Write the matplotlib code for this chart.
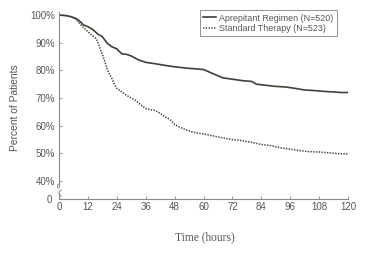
import numpy as np
import matplotlib.pyplot as plt

# Kaplan-Meier style curves (hours, percent)
aprep_t = [0, 3, 5, 7, 9, 10, 12, 14, 16, 18, 20, 22, 24, 26, 28, 30, 33, 36,
           40, 44, 48, 52, 56, 60, 64, 68, 72, 76, 80, 82, 86, 90, 94, 98,
           102, 106, 110, 114, 117, 120]
aprep_y = [100, 99.8, 99.4, 98.8, 97.5, 96.5, 95.8, 94.8, 93.2, 92.2, 89.8,
           88.5, 87.8, 86.0, 85.8, 85.2, 83.8, 82.9, 82.4, 81.8, 81.3, 80.9,
           80.6, 80.3, 78.8, 77.3, 76.8, 76.3, 76.0, 75.0, 74.6, 74.2, 74.0,
           73.5, 72.9, 72.7, 72.4, 72.2, 72.0, 72.0]

std_t = [0, 3, 5, 7, 9, 11, 13, 15, 16, 17, 18, 19, 20, 21, 22, 23, 24, 26,
         28, 30, 32, 34, 36, 38, 40, 42, 44, 46, 48, 50, 53, 56, 60, 64, 68,
         72, 76, 80, 84, 88, 92, 96, 100, 104, 108, 112, 116, 120]
std_y = [100, 99.8, 99.4, 98.5, 96.5, 94.8, 93.2, 91.8, 90.5, 88.0, 85.8,
         83.2, 80.5, 78.6, 77.0, 75.0, 73.5, 72.2, 71.0, 70.0, 69.0, 67.5,
         66.2, 65.8, 65.5, 64.5, 63.2, 62.3, 60.5, 59.5, 58.4, 57.6, 57.0,
         56.3, 55.6, 55.0, 54.6, 54.0, 53.2, 52.8, 52.0, 51.5, 51.0, 50.6,
         50.5, 50.2, 49.9, 49.8]

labels = ["Aprepitant Regimen (N=520)", "Standard Therapy (N=523)"]
x_ticks = np.arange(0, 121, 12)
y_ticks = np.arange(40, 101, 10)

W, H = 383, 256
line_col = "#404036"
text_col = "#555555"
spine_col = "#8a8a80"

fig = plt.figure(figsize=(W / 100, H / 100), dpi=100)
x0, x1 = 59 / W, 348 / W

# upper part: 40%..100%
ax = fig.add_axes([x0, 1 - 186 / H, x1 - x0, (186 - 12) / H])
# lower part: the 0 row and the time axis
axb = fig.add_axes([x0, 1 - 199 / H, x1 - x0, 6 / H])

ax.plot(aprep_t, aprep_y, color=line_col, lw=1.2, ls="-", label=labels[0])
ax.plot(std_t, std_y, color=line_col, lw=1.1, ls=(0, (0.9, 0.9)), label=labels[1])

ax.set_xlim(0, 120)
ax.set_ylim(38.2, 101.1)
ax.set_yticks(y_ticks)
ax.set_yticklabels([f"{v}%" for v in y_ticks])
ax.set_xticks([])
for s in ["top", "right", "bottom"]:
    ax.spines[s].set_visible(False)
ax.spines["left"].set_color(spine_col)
ax.tick_params(axis="y", direction="in", length=2, width=0.6, color=spine_col,
               labelsize=7, labelcolor=text_col, pad=3)

axb.set_xlim(0, 120)
axb.set_ylim(0, 2.2)
axb.set_xticks(x_ticks)
axb.set_yticks([0])
axb.set_yticklabels(["0"])
for s in ["top", "right"]:
    axb.spines[s].set_visible(False)
for s in ["left", "bottom"]:
    axb.spines[s].set_color(spine_col)
axb.tick_params(direction="in", length=2, width=0.6, color=spine_col,
                labelsize=7, labelcolor=text_col, pad=2)
axb.tick_params(axis="y", pad=5)
axb.patch.set_visible(False)

for lab in ax.get_yticklabels() + axb.get_yticklabels() + axb.get_xticklabels():
    lab.set_family("Liberation Sans")

# small break marks on the y axis
arc = np.linspace(-1, 1, 20)
ax.plot(0.006 * (1 - arc ** 2) * -1, 0.012 * arc, transform=ax.transAxes,
        color=spine_col, lw=0.7, clip_on=False)
axb.plot(0.008 * (arc ** 2), 1.0 + 0.5 * arc, transform=axb.transAxes,
         color=spine_col, lw=0.7, clip_on=False)

fig.text(15 / W, 1 - 108 / H, "Percent of Patients", rotation=90,
         ha="center", va="center", fontsize=7.4, color=text_col,
         family="Liberation Sans")
fig.text(205 / W, 1 - 237 / H, "Time (hours)", ha="center", va="center",
         fontsize=8.3, color=text_col, family="Liberation Serif")

leg = ax.legend(loc="upper right", bbox_to_anchor=(337 / W, 1 - 10 / H),
                bbox_transform=fig.transFigure, borderaxespad=0,
                frameon=True, fancybox=False, handlelength=1.4,
                handletextpad=0.4, borderpad=0.4, labelspacing=0.15,
                prop={"family": "Liberation Sans", "size": 6.4})
leg.get_frame().set_edgecolor("#777777")
leg.get_frame().set_linewidth(0.7)
for t in leg.get_texts():
    t.set_color(text_col)

fig.savefig("out.png", dpi=100)
